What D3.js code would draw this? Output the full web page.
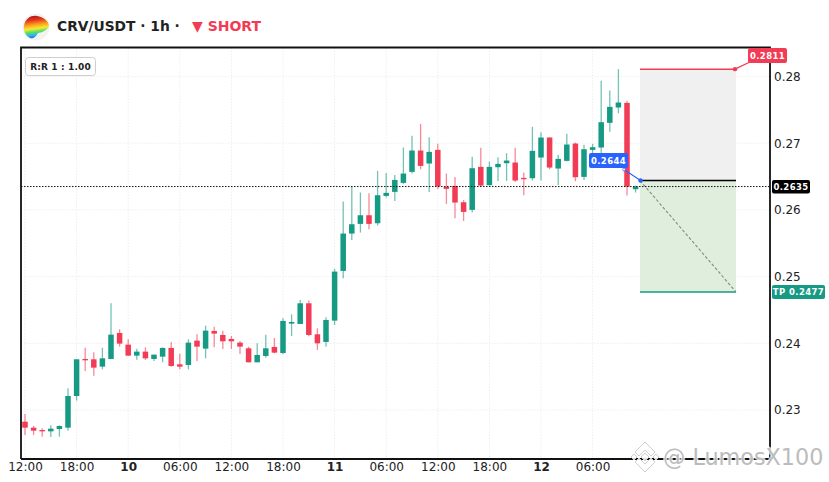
<!DOCTYPE html>
<html>
<head>
<meta charset="utf-8">
<script src="https://cdnjs.cloudflare.com/ajax/libs/d3/7.8.5/d3.min.js"></script>
<style>
  html, body { margin: 0; padding: 0; background: #fff; }
  svg { display: block; }
  text { font-family: "DejaVu Sans", sans-serif; }
</style>
</head>
<body>
<svg id="chart"></svg>
<script>
// candles, one per hour starting at 12:00 on the 9th
const opens = [.22825,.22735,.2270,.2268,.22715,.22735,.2321,.23765,.2376,.2365,.23765,.24155,.2398,.23815,.23875,.23765,.238,.2393,.23685,.23675,
  .2404,.2392,.24185,.24125,.24065,.2401,.23925,.23715,.2381,.23945,.23855,.24295,.2429,.2460,.24135,.2402,.2434,.25085,.25645,.2579,
  .2592,.258,.2621,.2627,.26405,.2657,.2689,.26695,.2690,.26345,.2636,.26115,.26,.26645,.2637,.2664,.267,.2671,.2648,.26475,
  .26785,.27085,.2662,.26735,.26995,.26495,.269,.26935,.27305,.27535,.27605,.2631];
const highs = [.2294,.2276,.22725,.2277,.2277,.23325,.2376,.23935,.23865,.23935,.2460,.2421,.2406,.2392,.2394,.2383,.2394,.2402,.23845,.2406,
  .24135,.24265,.2425,.2419,.2411,.24035,.2395,.2400,.2413,.2408,.24375,.24435,.2465,.2464,.24225,.2439,.25115,.26125,.2635,.2626,
  .2625,.26585,.26555,.26525,.26935,.2711,.2729,.2709,.2699,.26545,.26495,.2615,.26795,.2693,.26725,.2679,.2685,.2693,.2656,.27245,
  .27165,.2709,.26825,.2714,.2701,.26975,.2699,.27935,.2779,.2811,.27635,.26365];
const lows = [.22625,.22625,.2260,.22595,.2260,.2269,.2314,.23585,.23515,.2361,.2376,.2395,.2381,.23755,.2375,.23735,.23715,.2365,.2361,.2361,
  .23735,.23775,.2394,.23915,.23915,.2384,.23715,.23715,.23785,.2385,.2384,.2411,.2429,.24105,.2390,.2395,.24275,.24975,.2555,.2566,
  .2571,.25765,.26185,.26135,.2639,.26545,.2661,.2627,.26315,.2609,.25875,.25835,.2596,.2635,.26365,.26435,.26435,.2642,.2622,.2644,
  .2644,.2661,.26375,.26725,.2643,.2645,.2685,.2685,.2717,.2745,.26215,.2626];
const closes = [.22735,.2269,.2268,.2272,.2276,.2321,.2376,.23745,.23635,.23775,.2413,.23995,.23815,.23875,.23775,.2383,.2393,.2366,.2365,.2401,
  .2395,.2419,.24145,.2403,.2403,.2395,.23715,.23825,.23925,.2386,.24335,.2432,.2460,.24125,.2400,.2435,.25075,.25645,.25785,.2592,
  .2579,.2622,.26255,.2645,.26545,.2689,.2666,.2687,.26355,.26315,.2611,.2597,.26625,.26365,.26645,.2669,.2674,.2644,.2646,.26885,
  .27085,.26635,.26765,.2698,.2649,.2691,.2694,.27315,.27545,.2761,.2635,.2635];

const yTicks = [0.23, 0.24, 0.25, 0.26, 0.27, 0.28];
const xTickHours = [0, 6, 12, 18, 24, 30, 36, 42, 48, 54, 60, 66];
const xTickLabels = ['12:00', '18:00', '10', '06:00', '12:00', '18:00', '11', '06:00', '12:00', '18:00', '12', '06:00'];

const entryPrice = 0.2644;
const stopPrice = 0.2811;
const targetPrice = 0.2477;
const lastPrice = 0.2635;

const width = 829, height = 482;
const plotL = 21, plotR = 770, plotT = 47.5, plotB = 459;
const green = '#169a84', red = '#f23b54', blue = '#2962ff';

const svg = d3.select('#chart').attr('width', width).attr('height', height);

// price 0.23 sits at 410px, 0.28 at 76.5px
const y = d3.scaleLinear().domain([0.23, 0.28]).range([410, 76.5]);
// hours since the first candle
const x = d3.scaleLinear().domain([0, 66]).range([25, 592.6]);

// grid
const grid = svg.append('g');
grid.selectAll('.gy').data(yTicks).enter().append('line')
  .attr('x1', plotL).attr('x2', plotR)
  .attr('y1', d => y(d)).attr('y2', d => y(d))
  .attr('stroke', '#eeeeee').attr('stroke-dasharray', '1.5,1.5');
grid.selectAll('.gx').data(xTickHours).enter().append('line')
  .attr('x1', d => x(d)).attr('x2', d => x(d))
  .attr('y1', plotT).attr('y2', plotB)
  .attr('stroke', '#eeeeee').attr('stroke-dasharray', '1.5,1.5');

// risk / reward zones
const boxL = 640, boxR = 736;
svg.append('rect').attr('x', boxL).attr('width', boxR - boxL)
  .attr('y', y(stopPrice)).attr('height', y(entryPrice) - y(stopPrice)).attr('fill', '#f0f0f0');
svg.append('rect').attr('x', boxL).attr('width', boxR - boxL)
  .attr('y', y(entryPrice)).attr('height', y(targetPrice) - y(entryPrice)).attr('fill', '#dfeedd');
svg.append('line').attr('x1', boxL).attr('x2', boxR).attr('y1', y(stopPrice)).attr('y2', y(stopPrice))
  .attr('stroke', red).attr('stroke-width', 1.5);
svg.append('line').attr('x1', boxL).attr('x2', boxR).attr('y1', y(targetPrice)).attr('y2', y(targetPrice))
  .attr('stroke', green).attr('stroke-width', 1.5);
svg.append('line').attr('x1', boxL).attr('x2', boxR).attr('y1', y(entryPrice)).attr('y2', y(entryPrice))
  .attr('stroke', '#000').attr('stroke-width', 1.5);
svg.append('line').attr('x1', boxL).attr('x2', boxR).attr('y1', y(entryPrice)).attr('y2', y(targetPrice))
  .attr('stroke', '#888').attr('stroke-width', 1.1).attr('stroke-dasharray', '3,2');

// candles
const candles = svg.append('g');
const idx = d3.range(opens.length);
candles.selectAll('.wick').data(idx).enter().append('line')
  .attr('x1', i => x(i)).attr('x2', i => x(i))
  .attr('y1', i => y(highs[i])).attr('y2', i => y(lows[i]))
  .attr('stroke', i => closes[i] >= opens[i] ? green : red)
  .attr('stroke-opacity', 0.6)
  .attr('stroke-width', 1.3);
candles.selectAll('.body').data(idx).enter().append('rect')
  .attr('x', i => x(i) - 2.75).attr('width', 5.5)
  .attr('y', i => y(Math.max(opens[i], closes[i])))
  .attr('height', i => Math.max(1.2, Math.abs(y(opens[i]) - y(closes[i]))))
  .attr('fill', i => closes[i] >= opens[i] ? green : red);

// last price line
svg.append('line').attr('x1', plotL).attr('x2', plotR).attr('y1', y(lastPrice)).attr('y2', y(lastPrice))
  .attr('stroke', '#111').attr('stroke-dasharray', '1.5,1.5');

// frame
svg.append('path')
  .attr('d', `M${plotL},${plotB}V${plotT}H${plotR}V${plotB}H${plotL}`)
  .attr('fill', 'none').attr('stroke', '#111').attr('stroke-width', 1.8);

// axes
const yAxis = d3.axisRight(y).tickValues(yTicks).tickSize(0).tickPadding(4).tickFormat(d3.format('.2f'));
const yG = svg.append('g').attr('transform', `translate(${plotR},0)`).call(yAxis);
yG.select('.domain').remove();
yG.selectAll('text').attr('font-size', 12).attr('fill', '#222').style('font-family', '"DejaVu Sans"');

const xAxis = d3.axisBottom(x).tickValues(xTickHours).tickSize(0).tickPadding(3)
  .tickFormat((d, i) => xTickLabels[i]);
const xG = svg.append('g').attr('transform', `translate(0,${plotB})`).call(xAxis);
xG.select('.domain').remove();
xG.selectAll('text').attr('font-size', 12).attr('fill', '#222').style('font-family', '"DejaVu Sans"')
  .attr('font-weight', (d, i) => xTickLabels[i].length === 2 ? 'bold' : 'normal');

// price tags
function tag(x0, y0, w, h, fill, label) {
  svg.append('rect').attr('x', x0).attr('y', y0).attr('width', w).attr('height', h).attr('rx', 2).attr('fill', fill);
  svg.append('text').attr('x', x0 + w / 2).attr('y', y0 + h / 2 + 3)
    .attr('text-anchor', 'middle').attr('font-size', 8.5).attr('font-weight', 'bold')
    .attr('letter-spacing', 0.4).attr('fill', '#fff').text(label);
}
svg.append('line').attr('x1', 735).attr('x2', 752).attr('y1', y(stopPrice)).attr('y2', 61)
  .attr('stroke', red).attr('stroke-width', 1.2);
svg.append('circle').attr('cx', 735).attr('cy', y(stopPrice)).attr('r', 2.2).attr('fill', red);
tag(748, 48, 39, 15, red, d3.format('.4f')(stopPrice));

svg.append('line').attr('x1', 624).attr('x2', 640.5).attr('y1', 169.5).attr('y2', y(entryPrice))
  .attr('stroke', blue).attr('stroke-width', 1.2);
svg.append('circle').attr('cx', 640.5).attr('cy', y(entryPrice)).attr('r', 2.2).attr('fill', blue);
svg.append('circle').attr('cx', 624).attr('cy', 169.5).attr('r', 1.4).attr('fill', '#fff').attr('stroke', blue).attr('stroke-width', 0.7);
tag(589, 153, 39, 15, blue, d3.format('.4f')(entryPrice));

tag(772, 180, 38, 13.5, '#000', d3.format('.4f')(lastPrice));
tag(772, 285, 53, 14, green, 'TP ' + d3.format('.4f')(targetPrice));

// R:R badge
svg.append('rect').attr('x', 25.5).attr('y', 57.5).attr('width', 70).attr('height', 18).attr('rx', 3)
  .attr('fill', '#fff').attr('stroke', '#cfcfcf');
svg.append('text').attr('x', 60.5).attr('y', 69.5).attr('text-anchor', 'middle')
  .attr('font-size', 9).attr('font-weight', 'bold').attr('letter-spacing', 0.15).attr('fill', '#222').text('R:R 1 : 1.00');

// header
const defs = svg.append('defs');
const grad = defs.append('linearGradient').attr('id', 'crv').attr('x1', 0.3).attr('y1', 0).attr('x2', 0.45).attr('y2', 1);
[[0, '#a81818'], [0.2, '#e8341c'], [0.42, '#fba81e'], [0.58, '#f5e838'], [0.72, '#5ee05a'], [0.86, '#28b8f0'], [1, '#2050e0']].forEach(s => {
  grad.append('stop').attr('offset', s[0]).attr('stop-color', s[1]);
});
svg.append('circle').attr('cx', 36).attr('cy', 27).attr('r', 13.5).attr('fill', '#f3f3f3');
svg.append('path').attr('d', 'M24,26 C25,18 32,15 37,16 C43,17 49,21 49,26 C48,30 41,33 38,33 C36,37 33,39 30,38 C26,36 23,31 24,26 Z')
  .attr('fill', 'url(#crv)');
svg.append('text').attr('x', 57).attr('y', 31).attr('font-size', 13.8).attr('font-weight', 'bold').attr('fill', '#222').text('CRV/USDT · 1h ·');
svg.append('text').attr('x', 192).attr('y', 31).attr('font-size', 14).attr('font-weight', 'bold').attr('fill', red).text('▼ SHORT');

// watermark
const wm = svg.append('g');
wm.append('text').attr('x', 663).attr('y', 465).attr('font-size', 22.3).attr('fill', 'none')
  .attr('stroke', '#fff').attr('stroke-width', 2.5).attr('opacity', 0.8).text('@ LumosX100');
wm.append('text').attr('x', 663).attr('y', 465).attr('font-size', 22.3).attr('fill', '#bcbcbc').text('@ LumosX100');
// exchange mark: two chevrons and three small diamonds
const cx = 645, cy = 457;
const markParts = [
  `M${cx - 10},${cy - 5}L${cx},${cy - 15}L${cx + 10},${cy - 5}L${cx + 6},${cy - 1}L${cx},${cy - 7}L${cx - 6},${cy - 1}Z`,
  `M${cx - 10},${cy + 5}L${cx},${cy + 15}L${cx + 10},${cy + 5}L${cx + 6},${cy + 1}L${cx},${cy + 7}L${cx - 6},${cy + 1}Z`,
  `M${cx},${cy - 4}L${cx + 4},${cy}L${cx},${cy + 4}L${cx - 4},${cy}Z`,
  `M${cx - 11},${cy - 3}L${cx - 8},${cy}L${cx - 11},${cy + 3}L${cx - 14},${cy}Z`,
  `M${cx + 11},${cy - 3}L${cx + 14},${cy}L${cx + 11},${cy + 3}L${cx + 8},${cy}Z`
];
markParts.forEach(d => {
  wm.append('path').attr('d', d).attr('fill', '#fff').attr('fill-opacity', 0.85)
    .attr('stroke', '#cfcfcf').attr('stroke-width', 1);
});
</script>
</body>
</html>
